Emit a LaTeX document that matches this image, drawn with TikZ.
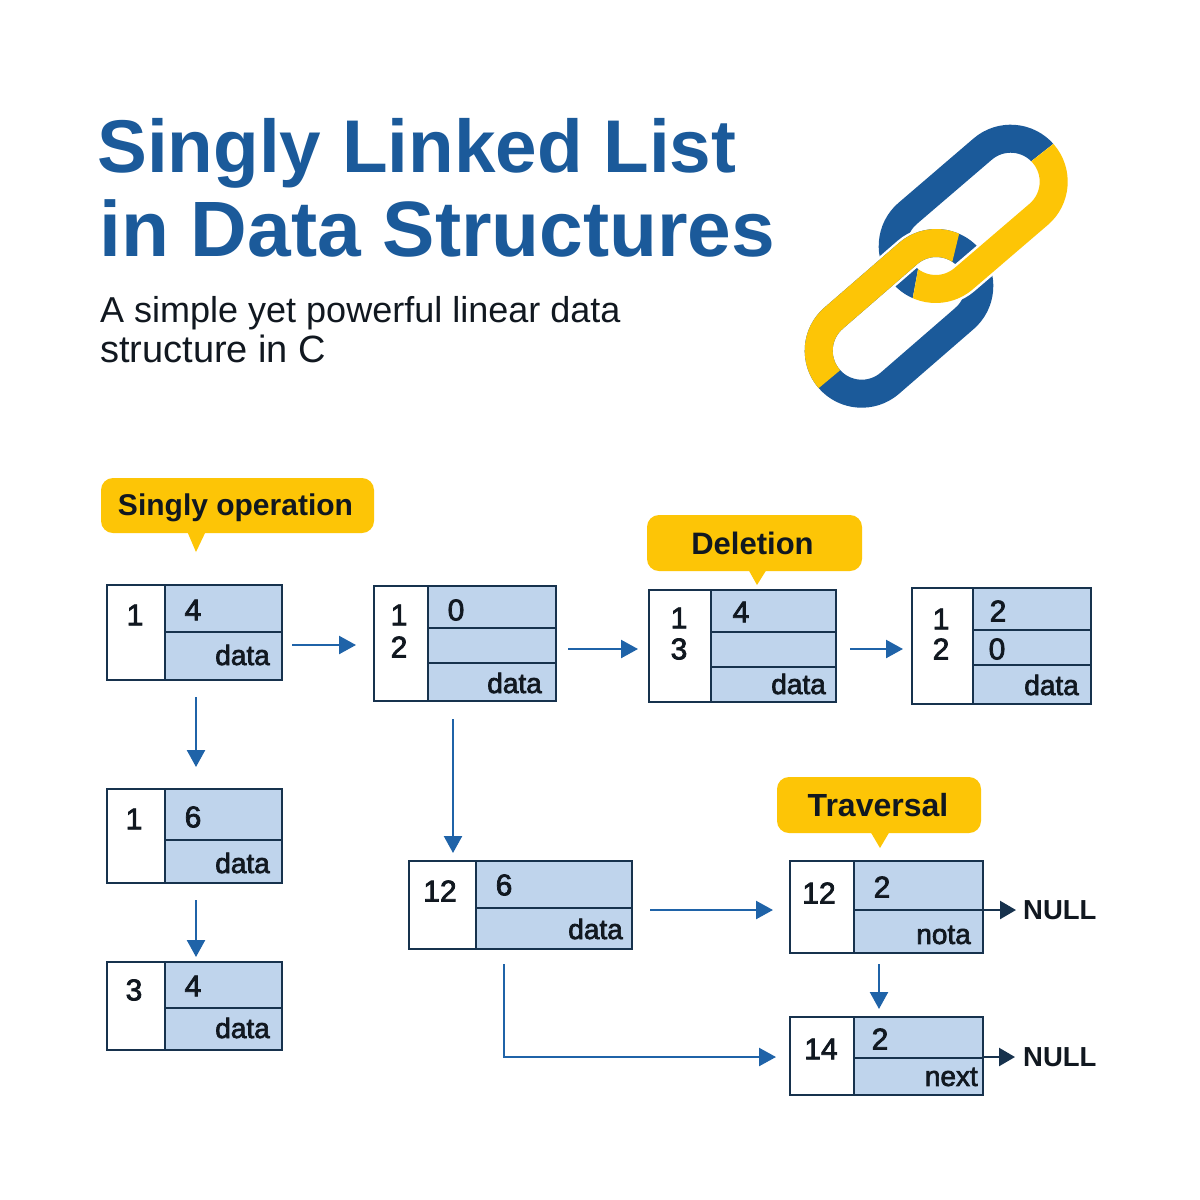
\documentclass[tikz,border=0pt]{standalone}
\usepackage{fontspec}
\setmainfont{Liberation Sans}
\newfontfamily\medfont{Liberation Sans}[FakeBold=2.5]
\usetikzlibrary{arrows.meta,calc}
\definecolor{brandblue}{HTML}{1B5A9A}
\definecolor{brandyellow}{HTML}{FDC506}
\definecolor{cellblue}{HTML}{BFD4EC}
\definecolor{edgedark}{HTML}{17324D}
\definecolor{arrowblue}{HTML}{1F63A8}
\definecolor{inkdark}{HTML}{111820}
\tikzset{
  cellbox/.style={draw=edgedark,line width=2.2pt,inner sep=0pt,outer sep=0pt,anchor=north west},
  celledge/.style={draw=edgedark,line width=2.2pt},
  lab/.style={inner sep=0pt,text=inkdark,font=\medfont\fontsize{30}{32}\selectfont},
  tag/.style={inner sep=0pt,anchor=east,text=inkdark,font=\medfont\fontsize{28}{30}\selectfont},
  arr/.style={draw=arrowblue,line width=2.4pt,-{Triangle[length=17pt,width=18pt]}},
  nullarr/.style={draw=edgedark,line width=2.4pt,-{Triangle[length=16pt,width=18pt]}},
  nulltxt/.style={inner sep=0pt,anchor=west,text=inkdark,font=\bfseries\fontsize{27.5}{30}\selectfont},
  callout/.style={fill=brandyellow,rounded corners=12pt,inner sep=0pt,outer sep=0pt,text=inkdark,font=\bfseries\fontsize{#1}{34}\selectfont},
  tip/.style={fill=brandyellow},
  titletxt/.style={inner sep=0pt,anchor=base west,text=brandblue,font=\bfseries\fontsize{#1}{80}\selectfont},
  subtxt/.style={inner sep=0pt,anchor=base west,text=inkdark,font=\fontsize{#1}{40}\selectfont},
  ringb/.style={draw=brandblue,line width=28pt,line join=round},
  ringy/.style={draw=brandyellow,line width=28pt,line join=round},
  halo/.style={draw=white,line width=33pt,line join=round},
}
% name, x0, y0, x1, y1, xd
\newcommand\listcell[6]{%
  \fill[cellblue] (#6,#3) rectangle (#4,#5);
  \draw[celledge] (#6,#3) -- (#6,#5);
  \node[cellbox,minimum width={(#4-#2)*1pt},minimum height={(#5-#3)*1pt}] (#1) at (#2,#3) {};
}
\newcommand\rowline[3]{\draw[celledge] (#1,#3) -- (#2,#3);}
\begin{document}
\begin{tikzpicture}[x=1pt,y=-1pt]
\useasboundingbox (0,0) rectangle (1200,1200);
\fill[white] (0,0) rectangle (1200,1200);

% title
\node[titletxt=74.7] (t1) at (97,172) {Singly Linked List};
\node[titletxt=78.5] (t2) at (99,256) {in Data Structures};
\node[subtxt=36] (s1) at (100,322) {A simple yet powerful linear data};
\node[subtxt=38] (s2) at (100,362) {structure in C};

% chain icon
\begin{scope}[y=1pt]
\def\rr{43pt}
\coordinate (cA) at (1010.7,-181.7);
\coordinate (cB) at (935.7,-246);
\coordinate (cC) at (936.3,-286);
\coordinate (cD) at (861.7,-350.7);
\def\linktop{($(cA)+(-229.4:\rr)$) arc (-229.4:-409.4:\rr) -- ($(cB)+(-49.4:\rr)$) arc (-49.4:-229.4:\rr) -- cycle}
\def\linklow{($(cC)+(-229.4:\rr)$) arc (-229.4:-409.4:\rr) -- ($(cD)+(-49.4:\rr)$) arc (-49.4:-229.4:\rr) -- cycle}
\def\cliptop{(1075,-127) -- (1033,-160) -- (918,-270) -- (907,-330) -- (1120,-330) -- (1120,-112) -- cycle}
\def\cliplow{(805,-399.5) -- (838,-372) -- (952,-263) -- (961,-226) -- (900,-190) -- (760,-300) -- (770,-420) -- cycle}
\draw[ringb] \linktop;
\begin{scope}\clip \cliptop; \draw[ringy] \linktop; \end{scope}
\draw[halo] \linklow;
\draw[ringb] \linklow;
\begin{scope}\clip \cliplow; \draw[ringy] \linklow; \end{scope}
\begin{scope}\clip \cliptop; \draw[halo] \linktop; \draw[ringy] \linktop; \end{scope}
\end{scope}

% cells
\listcell{a}{107}{585}{282}{680}{165}\rowline{165}{282}{632}
\listcell{b}{374}{586}{556}{701}{428}\rowline{428}{556}{628}\rowline{428}{556}{663}
\listcell{c}{649}{590}{836}{702}{711}\rowline{711}{836}{632}\rowline{711}{836}{667}
\listcell{d}{912}{588}{1091}{704}{973}\rowline{973}{1091}{630}\rowline{973}{1091}{665}
\listcell{e}{107}{789}{282}{883}{165}\rowline{165}{282}{840}
\listcell{f}{107}{962}{282}{1050}{165}\rowline{165}{282}{1008}
\listcell{g}{409}{861}{632}{949}{476}\rowline{476}{632}{908}
\listcell{h}{790}{861}{983}{953}{854}\rowline{854}{983}{910}
\listcell{i}{790}{1017}{983}{1095}{854}\rowline{854}{983}{1058}

% cell texts
\node[lab] (a1) at (135,615) {1};
\node[lab] (a2) at (193,610) {4};
\node[tag] (a3) at (270,655) {data};
\node[lab] (b1) at (399,615) {1};
\node[lab] (b2) at (399,647) {2};
\node[lab] (b3) at (456,610) {0};
\node[tag] (b4) at (542,683) {data};
\node[lab] (c1) at (679,618) {1};
\node[lab] (c2) at (679,649) {3};
\node[lab] (c3) at (741,612) {4};
\node[tag] (c4) at (826,684) {data};
\node[lab] (d1) at (941,619) {1};
\node[lab] (d2) at (941,649) {2};
\node[lab] (d3) at (998,611) {2};
\node[lab] (d4) at (997,649) {0};
\node[tag] (d5) at (1079,685) {data};
\node[lab] (e1) at (134,819) {1};
\node[lab] (e2) at (193,817) {6};
\node[tag] (e3) at (270,863) {data};
\node[lab] (f1) at (134,990) {3};
\node[lab] (f2) at (193,986) {4};
\node[tag] (f3) at (270,1028) {data};
\node[lab] (g1) at (440,891) {12};
\node[lab] (g2) at (504,885) {6};
\node[tag] (g3) at (623,929) {data};
\node[lab] (h1) at (819,893) {12};
\node[lab] (h2) at (882,887) {2};
\node[tag] (h3) at (971,935) {nota};
\node[lab] (i1) at (821,1049) {14};
\node[lab] (i2) at (880,1039) {2};
\node[tag] (i3) at (978,1077) {next};

% callouts
\fill[tip] (187,531) -- (206,531) -- (196,552) -- cycle;
\node[callout=30,minimum width=273pt,minimum height=55pt,text height=20pt,text depth=1pt] (co1) at (237.5,505.5) {\hspace*{-4pt}Singly operation};
\fill[tip] (748,569) -- (767,569) -- (757,585) -- cycle;
\node[callout=31,minimum width=215pt,minimum height=56pt] (co2) at (754.5,543) {\hspace*{-4pt}Deletion};
\fill[tip] (870,831) -- (890,831) -- (880,848) -- cycle;
\node[callout=32,minimum width=204pt,minimum height=56pt] (co3) at (879,805) {\hspace*{-2pt}Traversal};

% connector guide lines
\coordinate (r1) at (0,645);
\coordinate (r2) at (0,649);
\coordinate (r3) at (0,910);
\coordinate (r4) at (0,1057);
\coordinate (k1) at (196,0);
\coordinate (k2) at (453,0);
\coordinate (k3) at (879,0);
\coordinate (k4) at (504,0);

% NULL
\node[nulltxt] (n1) at (1023,910) {NULL};
\node[nulltxt] (n2) at (1023,1057) {NULL};

% connectors
\draw[arr,shorten <=10pt,shorten >=18pt] (a.east |- r1) -- (b.west |- r1);
\draw[arr,shorten <=12pt,shorten >=11pt] (b.east |- r2) -- (c.west |- r2);
\draw[arr,shorten <=14pt,shorten >=9pt] (c.east |- r2) -- (d.west |- r2);
\draw[arr,shorten <=17pt,shorten >=22pt] (k1 |- a.south) -- (k1 |- e.north);
\draw[arr,shorten <=17pt,shorten >=5pt] (k1 |- e.south) -- (k1 |- f.north);
\draw[arr,shorten <=18pt,shorten >=8pt] (k2 |- b.south) -- (k2 |- g.north);
\draw[arr,shorten <=18pt,shorten >=17pt] (g.east |- r3) -- (h.west |- r3);
\draw[arr,shorten <=15pt,shorten >=14pt] (k4 |- g.south) |- (i.west |- r4);
\draw[arr,shorten <=11pt,shorten >=8pt] (k3 |- h.south) -- (k3 |- i.north);
\draw[nullarr,shorten >=7pt] (h.east |- n1) -- (n1.west);
\draw[nullarr,shorten >=8pt] (i.east |- n2) -- (n2.west);
\end{tikzpicture}
\end{document}
